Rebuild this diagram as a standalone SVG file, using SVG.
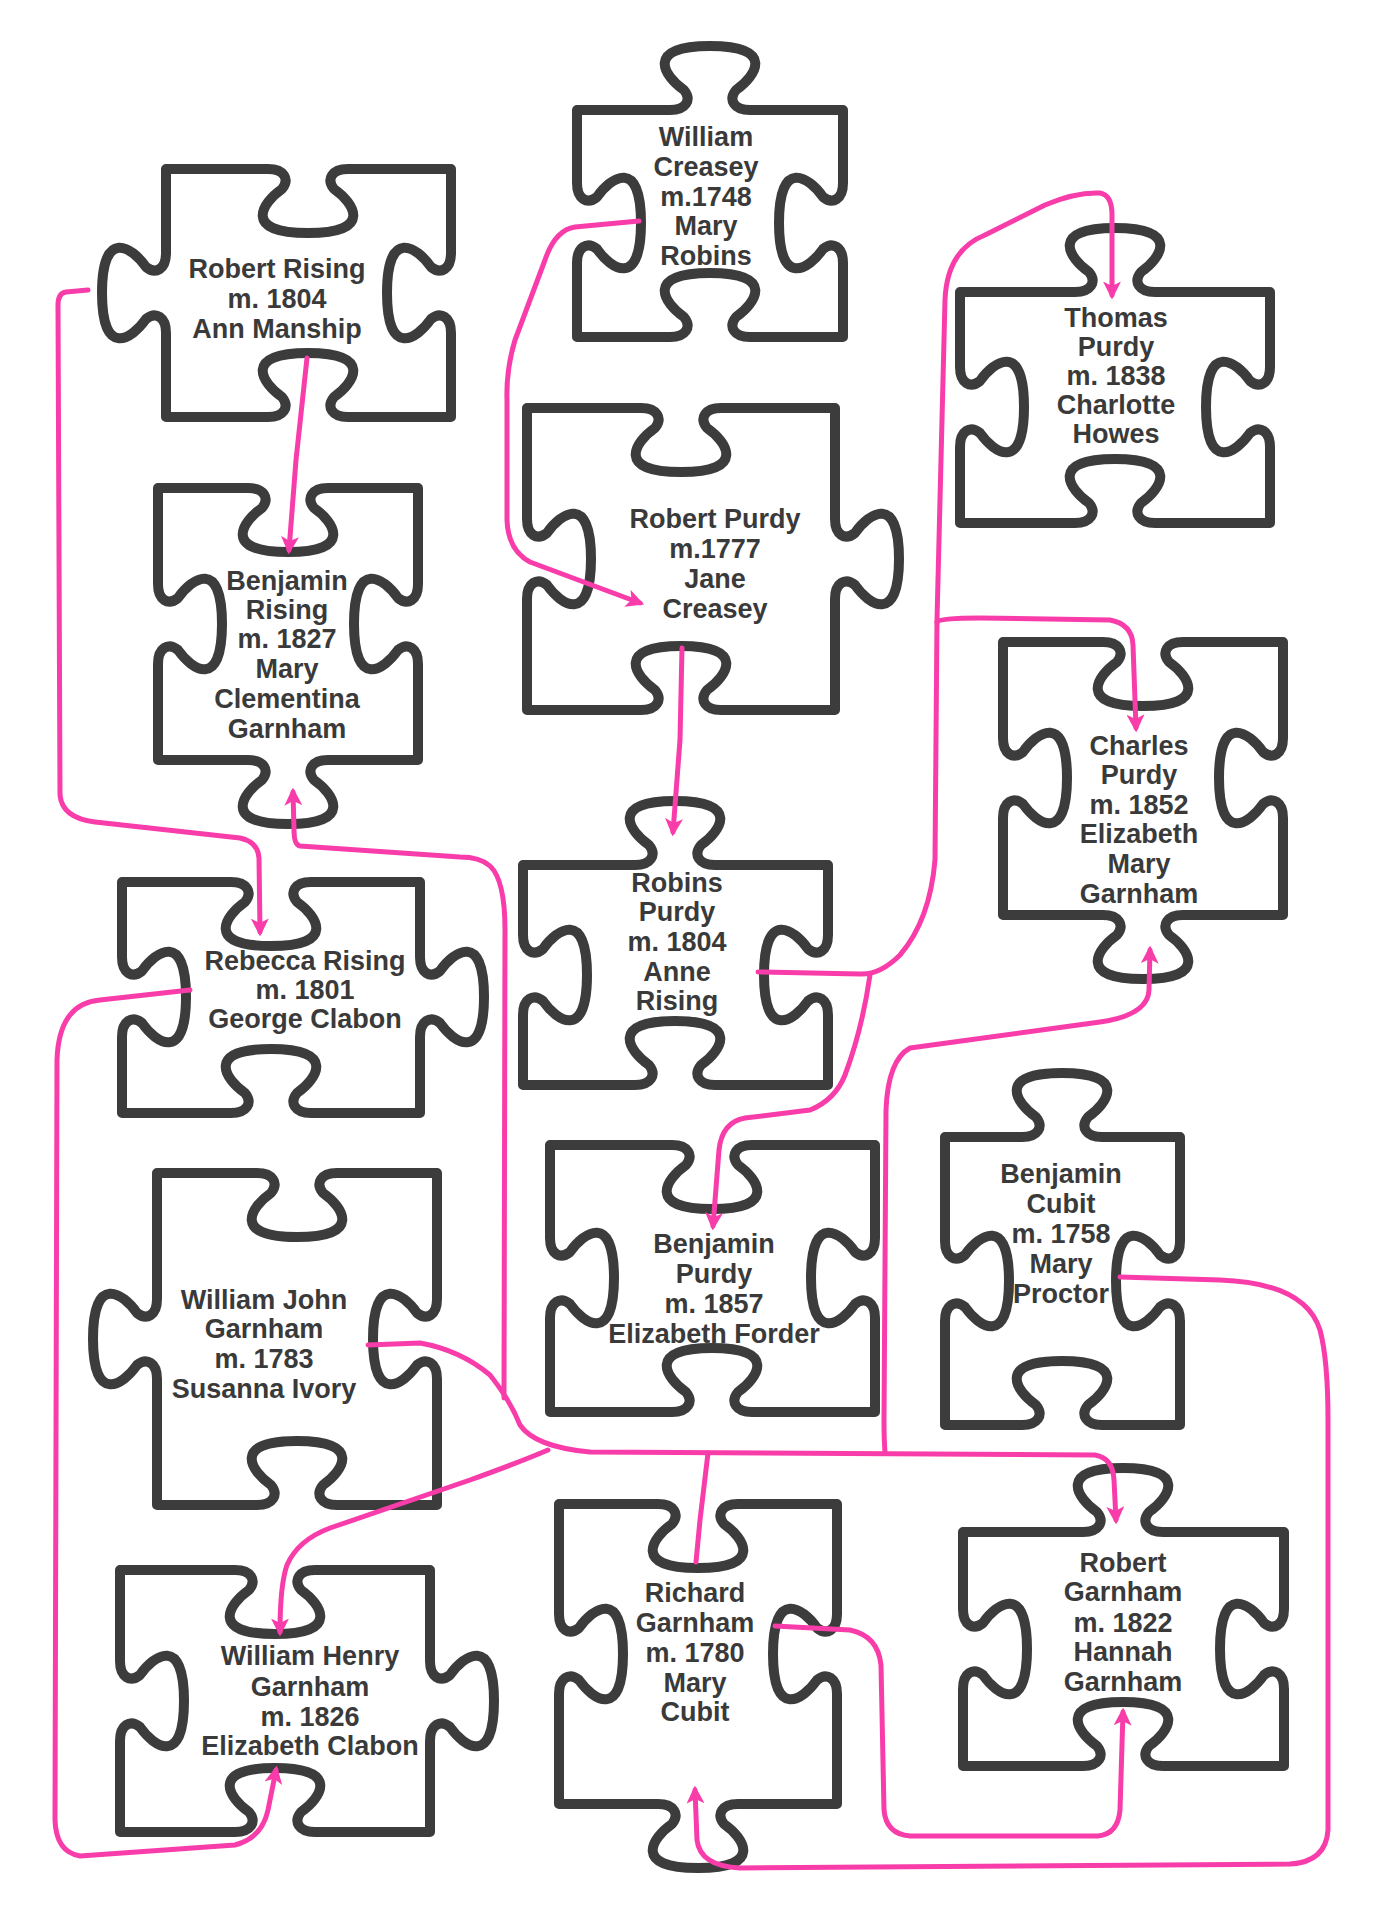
<svg xmlns="http://www.w3.org/2000/svg" width="1399" height="1920" viewBox="0 0 1399 1920">
<defs>
<style>
.pc{fill:#fff;stroke:#3c3c3c;stroke-width:10;stroke-linejoin:round}
.tx{font-family:"Liberation Sans",Arial,sans-serif;font-weight:bold;font-size:27px;fill:#3a3a3a;text-anchor:middle}
.ln{fill:none;stroke:#f83daa;stroke-width:5;stroke-linecap:round;stroke-linejoin:round}
.ar{marker-end:url(#ah)}
</style>
<marker id="ah" markerUnits="userSpaceOnUse" viewBox="0 0 12 12" markerWidth="18" markerHeight="18" refX="9" refY="6" orient="auto">
<path d="M0,0 L12,6 L0,12 L3,6 z" fill="#f83daa"/>
</marker>
</defs>
<rect width="1399" height="1920" fill="#fff"/>
<g id="nodes">
<g id="robert-rising">
<path class="pc" d="M166,169 H268 c16,0 22,10 14,20 c-20,14 -40,44 26,44 c66,0 46,-30 26,-44 c-8,-10 -2,-20 14,-20 H451 V253 c0,16 -10,22 -20,14 c-14,-20 -44,-40 -44,26 c0,66 30,46 44,26 c10,-8 20,-2 20,14 V417 H348 c-16,0 -22,-10 -14,-20 c20,-14 40,-44 -26,-44 c-66,0 -46,30 -26,44 c8,10 2,20 -14,20 H166 V333 c0,-16 -10,-22 -20,-14 c-14,20 -44,40 -44,-26 c0,-66 30,-46 44,-26 c10,8 20,2 20,-14 Z"/>
<text class="tx"><tspan x="277" y="278">Robert Rising</tspan><tspan x="277" y="308">m. 1804</tspan><tspan x="277" y="338">Ann Manship</tspan></text>
</g>
<g id="william-creasey">
<path class="pc" d="M577,110 H670 c16,0 22,-10 14,-20 c-20,-14 -40,-44 26,-44 c66,0 46,30 26,44 c-8,10 -2,20 14,20 H843 V183 c0,16 -10,22 -20,14 c-14,-20 -44,-40 -44,26 c0,66 30,46 44,26 c10,-8 20,-2 20,14 V337 H750 c-16,0 -22,-10 -14,-20 c20,-14 40,-44 -26,-44 c-66,0 -46,30 -26,44 c8,10 2,20 -14,20 H577 V263 c0,-16 10,-22 20,-14 c14,20 44,40 44,-26 c0,-66 -30,-46 -44,-26 c-10,8 -20,2 -20,-14 Z"/>
<text class="tx"><tspan x="706" y="146">William</tspan><tspan x="706" y="176">Creasey</tspan><tspan x="706" y="206">m.1748</tspan><tspan x="706" y="235">Mary</tspan><tspan x="706" y="265">Robins</tspan></text>
</g>
<g id="thomas-purdy">
<path class="pc" d="M960,292 H1075 c16,0 22,-10 14,-20 c-20,-14 -40,-44 26,-44 c66,0 46,30 26,44 c-8,10 -2,20 14,20 H1270 V367 c0,16 -10,22 -20,14 c-14,-20 -44,-40 -44,26 c0,66 30,46 44,26 c10,-8 20,-2 20,14 V523 H1155 c-16,0 -22,-10 -14,-20 c20,-14 40,-44 -26,-44 c-66,0 -46,30 -26,44 c8,10 2,20 -14,20 H960 V447 c0,-16 10,-22 20,-14 c14,20 44,40 44,-26 c0,-66 -30,-46 -44,-26 c-10,8 -20,2 -20,-14 Z"/>
<text class="tx"><tspan x="1116" y="327">Thomas</tspan><tspan x="1116" y="356">Purdy</tspan><tspan x="1116" y="385">m. 1838</tspan><tspan x="1116" y="414">Charlotte</tspan><tspan x="1116" y="443">Howes</tspan></text>
</g>
<g id="robert-purdy">
<path class="pc" d="M527,408 H641 c16,0 22,10 14,20 c-20,14 -40,44 26,44 c66,0 46,-30 26,-44 c-8,-10 -2,-20 14,-20 H835 V519 c0,16 10,22 20,14 c14,-20 44,-40 44,26 c0,66 -30,46 -44,26 c-10,-8 -20,-2 -20,14 V710 H721 c-16,0 -22,-10 -14,-20 c20,-14 40,-44 -26,-44 c-66,0 -46,30 -26,44 c8,10 2,20 -14,20 H527 V599 c0,-16 10,-22 20,-14 c14,20 44,40 44,-26 c0,-66 -30,-46 -44,-26 c-10,8 -20,2 -20,-14 Z"/>
<text class="tx"><tspan x="715" y="528">Robert Purdy</tspan><tspan x="715" y="558">m.1777</tspan><tspan x="715" y="588">Jane</tspan><tspan x="715" y="618">Creasey</tspan></text>
</g>
<g id="benjamin-rising">
<path class="pc" d="M158,488 H248 c16,0 22,10 14,20 c-20,14 -40,44 26,44 c66,0 46,-30 26,-44 c-8,-10 -2,-20 14,-20 H418 V584 c0,16 -10,22 -20,14 c-14,-20 -44,-40 -44,26 c0,66 30,46 44,26 c10,-8 20,-2 20,14 V760 H328 c-16,0 -22,10 -14,20 c20,14 40,44 -26,44 c-66,0 -46,-30 -26,-44 c8,-10 2,-20 -14,-20 H158 V664 c0,-16 10,-22 20,-14 c14,20 44,40 44,-26 c0,-66 -30,-46 -44,-26 c-10,8 -20,2 -20,-14 Z"/>
<text class="tx"><tspan x="287" y="590">Benjamin</tspan><tspan x="287" y="619">Rising</tspan><tspan x="287" y="648">m. 1827</tspan><tspan x="287" y="678">Mary</tspan><tspan x="287" y="708">Clementina</tspan><tspan x="287" y="738">Garnham</tspan></text>
</g>
<g id="charles-purdy">
<path class="pc" d="M1003,642 H1103 c16,0 22,10 14,20 c-20,14 -40,44 26,44 c66,0 46,-30 26,-44 c-8,-10 -2,-20 14,-20 H1283 V738 c0,16 -10,22 -20,14 c-14,-20 -44,-40 -44,26 c0,66 30,46 44,26 c10,-8 20,-2 20,14 V915 H1183 c-16,0 -22,10 -14,20 c20,14 40,44 -26,44 c-66,0 -46,-30 -26,-44 c8,-10 2,-20 -14,-20 H1003 V818 c0,-16 10,-22 20,-14 c14,20 44,40 44,-26 c0,-66 -30,-46 -44,-26 c-10,8 -20,2 -20,-14 Z"/>
<text class="tx"><tspan x="1139" y="755">Charles</tspan><tspan x="1139" y="784">Purdy</tspan><tspan x="1139" y="814">m. 1852</tspan><tspan x="1139" y="843">Elizabeth</tspan><tspan x="1139" y="873">Mary</tspan><tspan x="1139" y="903">Garnham</tspan></text>
</g>
<g id="rebecca-rising">
<path class="pc" d="M122,882 H231 c16,0 22,10 14,20 c-20,14 -40,44 26,44 c66,0 46,-30 26,-44 c-8,-10 -2,-20 14,-20 H420 V957 c0,16 10,22 20,14 c14,-20 44,-40 44,26 c0,66 -30,46 -44,26 c-10,-8 -20,-2 -20,14 V1113 H311 c-16,0 -22,-10 -14,-20 c20,-14 40,-44 -26,-44 c-66,0 -46,30 -26,44 c8,10 2,20 -14,20 H122 V1037 c0,-16 10,-22 20,-14 c14,20 44,40 44,-26 c0,-66 -30,-46 -44,-26 c-10,8 -20,2 -20,-14 Z"/>
<text class="tx"><tspan x="305" y="970">Rebecca Rising</tspan><tspan x="305" y="999">m. 1801</tspan><tspan x="305" y="1028">George Clabon</tspan></text>
</g>
<g id="robins-purdy">
<path class="pc" d="M523,865 H635 c16,0 22,-10 14,-20 c-20,-14 -40,-44 26,-44 c66,0 46,30 26,44 c-8,10 -2,20 14,20 H828 V935 c0,16 -10,22 -20,14 c-14,-20 -44,-40 -44,26 c0,66 30,46 44,26 c10,-8 20,-2 20,14 V1085 H715 c-16,0 -22,-10 -14,-20 c20,-14 40,-44 -26,-44 c-66,0 -46,30 -26,44 c8,10 2,20 -14,20 H523 V1015 c0,-16 10,-22 20,-14 c14,20 44,40 44,-26 c0,-66 -30,-46 -44,-26 c-10,8 -20,2 -20,-14 Z"/>
<text class="tx"><tspan x="677" y="892">Robins</tspan><tspan x="677" y="921">Purdy</tspan><tspan x="677" y="951">m. 1804</tspan><tspan x="677" y="981">Anne</tspan><tspan x="677" y="1010">Rising</tspan></text>
</g>
<g id="benjamin-purdy">
<path class="pc" d="M550,1145 H672 c16,0 22,10 14,20 c-20,14 -40,44 26,44 c66,0 46,-30 26,-44 c-8,-10 -2,-20 14,-20 H875 V1238 c0,16 -10,22 -20,14 c-14,-20 -44,-40 -44,26 c0,66 30,46 44,26 c10,-8 20,-2 20,14 V1412 H752 c-16,0 -22,-10 -14,-20 c20,-14 40,-44 -26,-44 c-66,0 -46,30 -26,44 c8,10 2,20 -14,20 H550 V1318 c0,-16 10,-22 20,-14 c14,20 44,40 44,-26 c0,-66 -30,-46 -44,-26 c-10,8 -20,2 -20,-14 Z"/>
<text class="tx"><tspan x="714" y="1253">Benjamin</tspan><tspan x="714" y="1283">Purdy</tspan><tspan x="714" y="1313">m. 1857</tspan><tspan x="714" y="1343">Elizabeth Forder</tspan></text>
</g>
<g id="benjamin-cubit">
<path class="pc" d="M945,1137 H1022 c16,0 22,-10 14,-20 c-20,-14 -40,-44 26,-44 c66,0 46,30 26,44 c-8,10 -2,20 14,20 H1180 V1241 c0,16 -10,22 -20,14 c-14,-20 -44,-40 -44,26 c0,66 30,46 44,26 c10,-8 20,-2 20,14 V1425 H1102 c-16,0 -22,-10 -14,-20 c20,-14 40,-44 -26,-44 c-66,0 -46,30 -26,44 c8,10 2,20 -14,20 H945 V1321 c0,-16 10,-22 20,-14 c14,20 44,40 44,-26 c0,-66 -30,-46 -44,-26 c-10,8 -20,2 -20,-14 Z"/>
<text class="tx"><tspan x="1061" y="1183">Benjamin</tspan><tspan x="1061" y="1213">Cubit</tspan><tspan x="1061" y="1243">m. 1758</tspan><tspan x="1061" y="1273">Mary</tspan><tspan x="1061" y="1303">Proctor</tspan></text>
</g>
<g id="william-john-garnham">
<path class="pc" d="M157,1173 H257 c16,0 22,10 14,20 c-20,14 -40,44 26,44 c66,0 46,-30 26,-44 c-8,-10 -2,-20 14,-20 H437 V1299 c0,16 -10,22 -20,14 c-14,-20 -44,-40 -44,26 c0,66 30,46 44,26 c10,-8 20,-2 20,14 V1505 H337 c-16,0 -22,-10 -14,-20 c20,-14 40,-44 -26,-44 c-66,0 -46,30 -26,44 c8,10 2,20 -14,20 H157 V1379 c0,-16 -10,-22 -20,-14 c-14,20 -44,40 -44,-26 c0,-66 30,-46 44,-26 c10,8 20,2 20,-14 Z"/>
<text class="tx"><tspan x="264" y="1309">William John</tspan><tspan x="264" y="1338">Garnham</tspan><tspan x="264" y="1368">m. 1783</tspan><tspan x="264" y="1398">Susanna Ivory</tspan></text>
</g>
<g id="william-henry-garnham">
<path class="pc" d="M120,1570 H235 c16,0 22,10 14,20 c-20,14 -40,44 26,44 c66,0 46,-30 26,-44 c-8,-10 -2,-20 14,-20 H430 V1661 c0,16 10,22 20,14 c14,-20 44,-40 44,26 c0,66 -30,46 -44,26 c-10,-8 -20,-2 -20,14 V1832 H315 c-16,0 -22,-10 -14,-20 c20,-14 40,-44 -26,-44 c-66,0 -46,30 -26,44 c8,10 2,20 -14,20 H120 V1741 c0,-16 10,-22 20,-14 c14,20 44,40 44,-26 c0,-66 -30,-46 -44,-26 c-10,8 -20,2 -20,-14 Z"/>
<text class="tx"><tspan x="310" y="1665">William Henry</tspan><tspan x="310" y="1696">Garnham</tspan><tspan x="310" y="1726">m. 1826</tspan><tspan x="310" y="1755">Elizabeth Clabon</tspan></text>
</g>
<g id="richard-garnham">
<path class="pc" d="M559,1504 H658 c16,0 22,10 14,20 c-20,14 -40,44 26,44 c66,0 46,-30 26,-44 c-8,-10 -2,-20 14,-20 H837 V1614 c0,16 -10,22 -20,14 c-14,-20 -44,-40 -44,26 c0,66 30,46 44,26 c10,-8 20,-2 20,14 V1804 H738 c-16,0 -22,10 -14,20 c20,14 40,44 -26,44 c-66,0 -46,-30 -26,-44 c8,-10 2,-20 -14,-20 H559 V1694 c0,-16 10,-22 20,-14 c14,20 44,40 44,-26 c0,-66 -30,-46 -44,-26 c-10,8 -20,2 -20,-14 Z"/>
<text class="tx"><tspan x="695" y="1602">Richard</tspan><tspan x="695" y="1632">Garnham</tspan><tspan x="695" y="1662">m. 1780</tspan><tspan x="695" y="1692">Mary</tspan><tspan x="695" y="1721">Cubit</tspan></text>
</g>
<g id="robert-garnham">
<path class="pc" d="M963,1532 H1083 c16,0 22,-10 14,-20 c-20,-14 -40,-44 26,-44 c66,0 46,30 26,44 c-8,10 -2,20 14,20 H1284 V1609 c0,16 -10,22 -20,14 c-14,-20 -44,-40 -44,26 c0,66 30,46 44,26 c10,-8 20,-2 20,14 V1766 H1163 c-16,0 -22,-10 -14,-20 c20,-14 40,-44 -26,-44 c-66,0 -46,30 -26,44 c8,10 2,20 -14,20 H963 V1689 c0,-16 10,-22 20,-14 c14,20 44,40 44,-26 c0,-66 -30,-46 -44,-26 c-10,8 -20,2 -20,-14 Z"/>
<text class="tx"><tspan x="1123" y="1572">Robert</tspan><tspan x="1123" y="1601">Garnham</tspan><tspan x="1123" y="1632">m. 1822</tspan><tspan x="1123" y="1661">Hannah</tspan><tspan x="1123" y="1691">Garnham</tspan></text>
</g>
</g>
<g id="connectors">
<path class="ln ar" d="M307,358 L296,460 L289,550"/>
<path class="ln ar" d="M88,290 L66,292 Q58,293 58,305 L60,795 Q62,818 95,822 L240,838 Q258,842 259,858 L260,932"/>
<path class="ln ar" d="M639,221 L575,227 Q555,230 545,260 L515,340 Q506,370 507,400 L507,520 Q508,550 530,562 L640,603"/>
<path class="ln ar" d="M682,648 L680,740 L673,832"/>
<path class="ln ar" d="M758,972 L860,974 Q880,975 900,955 Q930,920 935,860 L937,620 L945,300 Q947,250 985,235 L1045,205 Q1075,192 1100,193 Q1112,195 1112,215 L1112,295"/>
<path class="ln ar" d="M937,622 Q940,618 980,618 L1110,620 Q1132,624 1133,645 L1136,728"/>
<path class="ln ar" d="M870,975 Q862,1030 845,1075 Q835,1100 810,1110 L745,1118 Q722,1122 719,1150 L713,1226"/>
<path class="ln ar" d="M504,1398 L505,930 Q505,880 490,866 Q480,857 460,857 L300,846 Q294,845 294,830 L293,792"/>
<path class="ln ar" d="M368,1345 L420,1343 Q460,1350 490,1375 Q510,1400 520,1425 Q535,1447 590,1452 L1095,1455 Q1113,1458 1114,1480 L1116,1520"/>
<path class="ln ar" d="M548,1450 Q520,1462 470,1480 L330,1528 Q298,1540 287,1565 Q280,1585 280,1632"/>
<path class="ln" d="M708,1453 L700,1520 L696,1562"/>
<path class="ln ar" d="M885,1452 Q884,1440 884,1420 L886,1110 Q888,1060 910,1048 L1100,1022 Q1148,1015 1149,990 L1150,950"/>
<path class="ln ar" d="M775,1626 L850,1630 Q878,1636 881,1665 L884,1810 Q886,1834 910,1836 L1098,1836 Q1118,1834 1120,1810 L1123,1712"/>
<path class="ln ar" d="M1120,1277 L1220,1280 Q1305,1283 1320,1330 Q1328,1360 1328,1420 L1328,1830 Q1326,1862 1290,1864 L740,1868 Q700,1866 697,1840 L695,1790"/>
<path class="ln ar" d="M190,990 L100,1000 Q80,1002 70,1015 Q58,1030 57,1060 L55,1820 Q56,1852 80,1856 L235,1845 Q262,1838 268,1810 L276,1770"/>
</g>
</svg>
